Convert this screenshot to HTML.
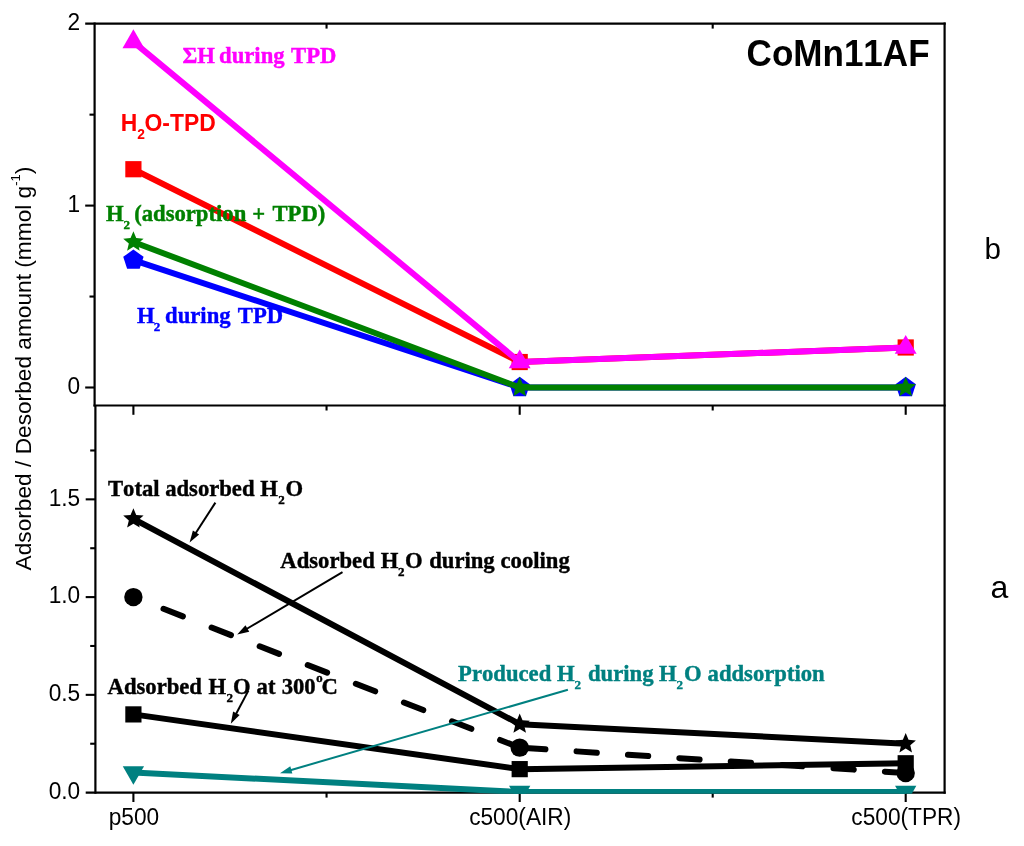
<!DOCTYPE html>
<html lang="en"><head><meta charset="utf-8"><title>CoMn11AF</title>
<style>
html,body{margin:0;padding:0;background:#fff;}
svg{display:block;}
text{white-space:pre;font-kerning:none;font-variant-ligatures:none;}
.ar{font-family:"Liberation Sans",Arial,sans-serif;}
.tb{font-family:"Liberation Serif","Times New Roman",serif;font-weight:bold;}
.ab{font-family:"Liberation Sans",Arial,sans-serif;font-weight:bold;}
</style></head><body>
<svg width="1024" height="846" viewBox="0 0 1024 846">
<rect width="1024" height="846" fill="#fff"/>
<defs>
<clipPath id="ct"><rect x="94" y="23" width="851" height="383"/></clipPath>
<clipPath id="cb"><rect x="94" y="405" width="851" height="388.7"/></clipPath>
</defs>

<g stroke="#000" stroke-width="2.2" fill="none" stroke-linecap="butt">
<path d="M85.2,23.7 H945.7"/>
<path d="M94.6,22.6 V406.6"/>
<path d="M95.4,405.5 V793.7"/>
<path d="M944.6,22.6 V793.7"/>
<path d="M93.5,405.5 H945.7"/>
<path d="M85.7,792.6 H945.7"/>
</g>
<g stroke="#000" stroke-width="2.1" fill="none">
<path d="M85.2,387.50 H94.6"/>
<path d="M85.2,205.60 H94.6"/>
<path d="M89.5,296.55 H94.6"/>
<path d="M89.5,114.65 H94.6"/>
<path d="M85.7,694.85 H95.4"/>
<path d="M85.7,597.10 H95.4"/>
<path d="M85.7,499.35 H95.4"/>
<path d="M90.2,743.73 H95.4"/>
<path d="M90.2,645.98 H95.4"/>
<path d="M90.2,548.23 H95.4"/>
<path d="M90.2,450.48 H95.4"/>
<path d="M326.55,23.7 V28.6"/>
<path d="M326.55,405.5 V410.5"/>
<path d="M326.55,792.6 V797.6"/>
<path d="M712.70,23.7 V28.6"/>
<path d="M712.70,405.5 V410.5"/>
<path d="M712.70,792.6 V797.6"/>
<path d="M133.40,405.5 V414.8"/>
<path d="M133.40,792.6 V802"/>
<path d="M519.70,405.5 V414.8"/>
<path d="M519.70,792.6 V802"/>
<path d="M905.70,405.5 V414.8"/>
<path d="M905.70,792.6 V802"/>
</g>
<g clip-path="url(#ct)">
<g stroke="#0000FF" fill="#0000FF">
<polyline fill="none" stroke-width="6.0" stroke-linejoin="round" points="133.40,260.17 519.70,387.50 905.70,387.50"/>
<g stroke="none">
<polygon points="133.40,249.47 143.58,256.86 139.69,268.83 127.11,268.83 123.22,256.86"/>
<polygon points="519.70,376.80 529.88,384.19 525.99,396.16 513.41,396.16 509.52,384.19"/>
<polygon points="905.70,376.80 915.88,384.19 911.99,396.16 899.41,396.16 895.52,384.19"/>
</g></g>
<g stroke="#008000" fill="#008000">
<polyline fill="none" stroke-width="6.0" stroke-linejoin="round" points="133.40,241.98 519.70,387.50 905.70,387.50"/>
<g stroke="none">
<polygon points="133.40,231.28 136.23,238.08 143.58,238.67 137.98,243.47 139.69,250.64 133.40,246.79 127.11,250.64 128.82,243.47 123.22,238.67 130.57,238.08"/>
<polygon points="519.70,376.80 522.53,383.60 529.88,384.19 524.28,388.99 525.99,396.16 519.70,392.31 513.41,396.16 515.12,388.99 509.52,384.19 516.87,383.60"/>
<polygon points="905.70,376.80 908.53,383.60 915.88,384.19 910.28,388.99 911.99,396.16 905.70,392.31 899.41,396.16 901.12,388.99 895.52,384.19 902.87,383.60"/>
</g></g>
<g stroke="#FF0000" fill="#FF0000">
<polyline fill="none" stroke-width="6.0" stroke-linejoin="round" points="133.40,169.22 519.70,362.03 905.70,347.48"/>
<g stroke="none">
<rect x="125.30" y="161.12" width="16.2" height="16.2"/>
<rect x="511.60" y="353.93" width="16.2" height="16.2"/>
<rect x="897.60" y="339.38" width="16.2" height="16.2"/>
</g></g>
<g stroke="#FF00FF" fill="#FF00FF">
<polyline fill="none" stroke-width="6.0" stroke-linejoin="round" points="133.40,41.89 519.70,362.03 905.70,347.48"/>
<g stroke="none">
<polygon points="133.40,29.29 144.31,48.19 122.49,48.19"/>
<polygon points="519.70,349.43 530.61,368.33 508.79,368.33"/>
<polygon points="905.70,334.88 916.61,353.78 894.79,353.78"/>
</g></g>
</g>
<g clip-path="url(#cb)">
<g stroke="#008080" fill="#008080"><polyline fill="none" stroke-width="6.0" stroke-linejoin="round" points="133.40,772.45 519.70,792.00 905.70,792.00"/><g stroke="none"><polygon points="133.40,784.75 144.05,766.30 122.75,766.30"/><polygon points="519.70,804.30 530.35,785.85 509.05,785.85"/><polygon points="905.70,804.30 916.35,785.85 895.05,785.85"/></g></g>
<g stroke="#000" fill="#000">
<polyline fill="none" stroke-width="6.0" stroke-linejoin="round" points="133.40,714.40 519.70,769.14 905.70,763.27"/><g stroke="none"><rect x="125.30" y="706.30" width="16.2" height="16.2"/><rect x="511.60" y="761.04" width="16.2" height="16.2"/><rect x="897.60" y="755.17" width="16.2" height="16.2"/></g>
<polyline fill="none" stroke-width="6.0" stroke-linejoin="round" points="133.40,518.90 519.70,724.18 905.70,743.73"/><g stroke="none"><polygon points="133.40,508.20 136.23,515.00 143.58,515.59 137.98,520.39 139.69,527.56 133.40,523.72 127.11,527.56 128.82,520.39 123.22,515.59 130.57,515.00"/><polygon points="519.70,713.48 522.53,720.28 529.88,720.87 524.28,725.66 525.99,732.83 519.70,728.99 513.41,732.83 515.12,725.66 509.52,720.87 516.87,720.28"/><polygon points="905.70,733.02 908.53,739.83 915.88,740.42 910.28,745.21 911.99,752.38 905.70,748.54 899.41,752.38 901.12,745.21 895.52,740.42 902.87,739.83"/></g>
<line x1="133.40" y1="597.10" x2="519.70" y2="747.63" stroke-width="6.0" stroke-linecap="round" stroke-dasharray="20.8 30.8" stroke-dashoffset="-32.3"/>
<line x1="519.70" y1="747.63" x2="905.70" y2="773.05" stroke-width="6.0" stroke-linecap="round" stroke-dasharray="20.3 31.2" stroke-dashoffset="-5.5"/>
<g stroke="none"><circle cx="133.40" cy="597.10" r="9.2"/><circle cx="519.70" cy="747.63" r="9.2"/><circle cx="905.70" cy="773.05" r="9.2"/></g>
</g></g>
<line x1="215.40" y1="502.60" x2="195.46" y2="533.43" stroke="#000" stroke-width="2.0"/><polygon fill="#000" points="189.60,542.50 192.90,530.58 199.11,534.60"/>
<line x1="342.50" y1="572.20" x2="246.50" y2="629.00" stroke="#000" stroke-width="2.0"/><polygon fill="#000" points="237.20,634.50 245.47,625.31 249.24,631.68"/>
<line x1="248.40" y1="690.60" x2="235.87" y2="714.16" stroke="#000" stroke-width="2.0"/><polygon fill="#000" points="230.80,723.70 233.07,711.54 239.61,715.02"/>
<line x1="567.90" y1="689.80" x2="290.37" y2="770.19" stroke="#008080" stroke-width="2.0"/><polygon fill="#008080" points="280.00,773.20 290.30,766.36 292.36,773.47"/>
<text class="ar" transform="translate(80.2,393.65) scale(1,1.045)" font-size="22.7" text-anchor="end">0</text>
<text class="ar" transform="translate(80.2,211.75) scale(1,1.045)" font-size="22.7" text-anchor="end">1</text>
<text class="ar" transform="translate(80.2,29.85) scale(1,1.045)" font-size="22.7" text-anchor="end">2</text>
<text class="ar" transform="translate(80.2,798.75) scale(1,1.045)" font-size="22.7" text-anchor="end">0.0</text>
<text class="ar" transform="translate(80.2,701.00) scale(1,1.045)" font-size="22.7" text-anchor="end">0.5</text>
<text class="ar" transform="translate(80.2,603.25) scale(1,1.045)" font-size="22.7" text-anchor="end">1.0</text>
<text class="ar" transform="translate(80.2,505.50) scale(1,1.045)" font-size="22.7" text-anchor="end">1.5</text>
<text class="ar" transform="translate(133.9,825.40) scale(1,1.045)" font-size="22.7" text-anchor="middle">p500</text>
<text class="ar" transform="translate(520.2,825.40) scale(1,1.045)" font-size="22.7" text-anchor="middle">c500(AIR)</text>
<text class="ar" transform="translate(906.2,825.40) scale(1,1.045)" font-size="22.7" text-anchor="middle">c500(TPR)</text>
<text class="ar" font-size="22.7" transform="translate(31,570.4) rotate(-90)">Adsorbed / Desorbed amount (mmol g<tspan font-size="13" dy="-11.5">-1</tspan><tspan dy="11.5">)</tspan></text>
<text class="tb" fill="#FF00FF" stroke="#FF00FF" stroke-width="0.4" font-size="22.67" y="62.9"><tspan x="182.45">ΣH </tspan><tspan x="219.10">during </tspan><tspan x="291.05">TPD</tspan></text>
<text class="tb" fill="#008000" stroke="#008000" stroke-width="0.4" font-size="22.67" y="220.8"><tspan x="105.90">H</tspan><tspan x="123.50" dy="7.7" font-size="13.0">2 </tspan><tspan x="134.20" dy="-7.70">(adsorption </tspan><tspan x="252.15">+ </tspan><tspan x="272.45">TPD)</tspan></text>
<text class="tb" fill="#0000FF" stroke="#0000FF" stroke-width="0.4" font-size="22.67" y="323.0"><tspan x="137.10">H</tspan><tspan x="153.80" dy="7.7" font-size="13.0">2 </tspan><tspan x="165.10" dy="-7.70">during </tspan><tspan x="237.85">TPD</tspan></text>
<text class="tb" fill="#000" stroke="#000" stroke-width="0.4" font-size="22.67" y="495.8"><tspan x="107.95">Total </tspan><tspan x="165.15">adsorbed </tspan><tspan x="260.20">H</tspan><tspan x="278.20" dy="7.7" font-size="13.0">2</tspan><tspan x="285.50" dy="-7.70">O</tspan></text>
<text class="tb" fill="#000" stroke="#000" stroke-width="0.4" font-size="22.67" y="567.8"><tspan x="280.35">Adsorbed </tspan><tspan x="380.80">H</tspan><tspan x="397.90" dy="7.7" font-size="13.0">2</tspan><tspan x="404.90" dy="-7.70">O </tspan><tspan x="429.20">during </tspan><tspan x="500.55">cooling</tspan></text>
<text class="tb" fill="#000" stroke="#000" stroke-width="0.4" font-size="22.67" y="693.9"><tspan x="107.55">Adsorbed </tspan><tspan x="208.60">H</tspan><tspan x="226.40" dy="7.7" font-size="13.0">2</tspan><tspan x="233.10" dy="-7.70">O </tspan><tspan x="256.55">at </tspan><tspan x="281.65">300</tspan><tspan x="316.30" dy="-11.6" font-size="12.8">o</tspan><tspan x="321.60" dy="11.60">C</tspan></text>
<text class="tb" fill="#008080" stroke="#008080" stroke-width="0.4" font-size="22.67" y="681.4"><tspan x="458.10">Produced </tspan><tspan x="557.00">H</tspan><tspan x="574.60" dy="7.7" font-size="13.0">2 </tspan><tspan x="588.00" dy="-7.70">during </tspan><tspan x="659.00">H</tspan><tspan x="676.60" dy="7.7" font-size="13.0">2</tspan><tspan x="683.90" dy="-7.70">O </tspan><tspan x="707.55">addsorption</tspan></text>
<text class="ab" fill="#FF0000" font-size="22.9" transform="translate(120.8,131) scale(1,1.045)">H<tspan font-size="13.8" dy="7.6" dx="0">2</tspan><tspan dy="-7.6" dx="-0.5">O-TPD</tspan></text>
<text class="ab" fill="#000" font-size="35.05" transform="translate(746.6,65.6) scale(1,1.045)">CoMn11AF</text>
<text class="ar" fill="#000" font-size="29.6" x="984.6" y="258.6">b</text>
<text class="ar" fill="#000" font-size="32" x="990.4" y="598.2">a</text>
</svg></body></html>
